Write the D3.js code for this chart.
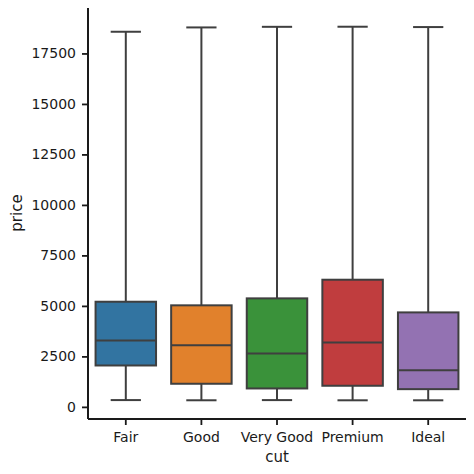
<!DOCTYPE html>
<html>
<head>
<meta charset="utf-8">
<script src="https://cdn.jsdelivr.net/npm/d3@7"></script>
<style>
body { margin: 0; background: #fff; }
svg text { font-family: 'DejaVu Sans', sans-serif; }
.tick text { font-size: 14px; fill: #1a1a1a; }
.axis-label { font-size: 15px; fill: #1a1a1a; }
</style>
</head>
<body>
<script>
// diamonds price by cut (whiskers reach min / max)
var cuts = ["Fair", "Good", "Very Good", "Premium", "Ideal"];
var mins = [337, 327, 336, 326, 326];
var q1s = [2050, 1145, 912, 1046, 878];
var medians = [3282, 3050, 2648, 3185, 1810];
var q3s = [5206, 5028, 5373, 6296, 4678];
var maxs = [18574, 18788, 18818, 18823, 18806];
var colors = ["#3274a1", "#e1812c", "#3a923a", "#c03d3e", "#9372b2"];
var yTicks = [0, 2500, 5000, 7500, 10000, 12500, 15000, 17500];

var width = 474, height = 474;
var mLeft = 88, mRight = 466, mTop = 8, mBottom = 419;
var lineColor = "#3f3f3f";

var svg = d3.select("body").append("svg")
    .attr("width", width)
    .attr("height", height);

var x = d3.scaleBand()
    .domain(cuts)
    .range([mLeft, mRight])
    .paddingInner(0).paddingOuter(0);

var y = d3.scaleLinear()
    .domain([-600, 19750])
    .range([mBottom, mTop]);

var bw = x.bandwidth() * 0.8;

var boxes = svg.append("g").selectAll("g")
    .data(cuts)
    .enter().append("g")
    .attr("transform", function (d) { return "translate(" + (x(d) + x.bandwidth() / 2) + ",0)"; });

// whiskers
boxes.append("line")
    .attr("x1", 0).attr("x2", 0)
    .attr("y1", function (d, i) { return y(q3s[i]); })
    .attr("y2", function (d, i) { return y(maxs[i]); })
    .attr("stroke", lineColor).attr("stroke-width", 2);
boxes.append("line")
    .attr("x1", 0).attr("x2", 0)
    .attr("y1", function (d, i) { return y(q1s[i]); })
    .attr("y2", function (d, i) { return y(mins[i]); })
    .attr("stroke", lineColor).attr("stroke-width", 2);

// caps
boxes.append("line")
    .attr("x1", -bw / 4).attr("x2", bw / 4)
    .attr("y1", function (d, i) { return y(maxs[i]); })
    .attr("y2", function (d, i) { return y(maxs[i]); })
    .attr("stroke", lineColor).attr("stroke-width", 2);
boxes.append("line")
    .attr("x1", -bw / 4).attr("x2", bw / 4)
    .attr("y1", function (d, i) { return y(mins[i]); })
    .attr("y2", function (d, i) { return y(mins[i]); })
    .attr("stroke", lineColor).attr("stroke-width", 2);

// box
boxes.append("rect")
    .attr("x", -bw / 2)
    .attr("width", bw)
    .attr("y", function (d, i) { return y(q3s[i]); })
    .attr("height", function (d, i) { return y(q1s[i]) - y(q3s[i]); })
    .attr("fill", function (d, i) { return colors[i]; })
    .attr("stroke", lineColor).attr("stroke-width", 2);

// median
boxes.append("line")
    .attr("x1", -bw / 2).attr("x2", bw / 2)
    .attr("y1", function (d, i) { return y(medians[i]); })
    .attr("y2", function (d, i) { return y(medians[i]); })
    .attr("stroke", lineColor).attr("stroke-width", 2);

// axes
var yAxis = svg.append("g")
    .attr("transform", "translate(" + mLeft + ",0)")
    .call(d3.axisLeft(y).tickValues(yTicks).tickSize(6).tickPadding(6).tickFormat(d3.format("d")));
var xAxis = svg.append("g")
    .attr("transform", "translate(0," + mBottom + ")")
    .call(d3.axisBottom(x).tickSize(6).tickPadding(7));

[yAxis, xAxis].forEach(function (a) {
    a.select(".domain").attr("stroke", "#1a1a1a").attr("stroke-width", 2);
    a.selectAll(".tick line").attr("stroke", "#1a1a1a").attr("stroke-width", 1.8);
});
yAxis.select(".domain").attr("d", "M0," + mBottom + "V" + mTop);
xAxis.select(".domain").attr("d", "M" + mLeft + ",0H" + mRight);

svg.append("text")
    .attr("class", "axis-label")
    .attr("x", x("Very Good") + x.bandwidth() / 2)
    .attr("y", 462)
    .attr("text-anchor", "middle")
    .text("cut");

svg.append("text")
    .attr("class", "axis-label")
    .attr("transform", "translate(22," + y(9600) + ") rotate(-90)")
    .attr("text-anchor", "middle")
    .text("price");
</script>
</body>
</html>
